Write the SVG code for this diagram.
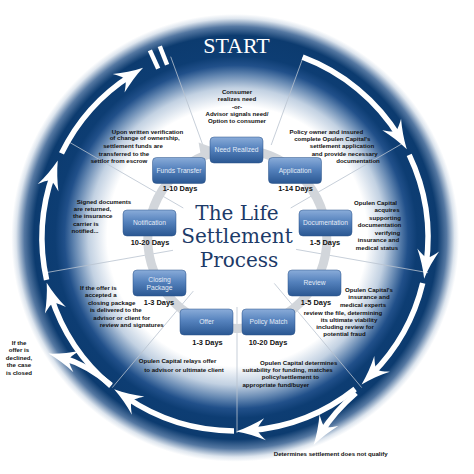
<svg xmlns="http://www.w3.org/2000/svg" width="474" height="474" viewBox="0 0 474 474">
<defs>
<radialGradient id="ringGrad" gradientUnits="userSpaceOnUse" cx="235" cy="238" r="232" fx="240" fy="234">
<stop offset="0" stop-color="#ffffff"/>
<stop offset="0.56" stop-color="#ffffff"/>
<stop offset="0.64" stop-color="#c2d1e2"/>
<stop offset="0.70" stop-color="#6185b0"/>
<stop offset="0.74" stop-color="#21508a"/>
<stop offset="0.78" stop-color="#0d3d73"/>
<stop offset="0.87" stop-color="#0c3b6f"/>
<stop offset="0.91" stop-color="#5578a2"/>
<stop offset="0.945" stop-color="#dde5ee"/>
<stop offset="0.965" stop-color="#ffffff"/>
<stop offset="1" stop-color="#ffffff"/>
</radialGradient>
<linearGradient id="nodeGrad" x1="0" y1="0" x2="0" y2="1">
<stop offset="0" stop-color="#8aacd9"/>
<stop offset="0.45" stop-color="#5582bd"/>
<stop offset="1" stop-color="#2a5792"/>
</linearGradient>
<marker id="ah" viewBox="-20 -20 40 40" markerWidth="40" markerHeight="40" refX="0" refY="0" orient="auto" markerUnits="userSpaceOnUse" overflow="visible">
<path d="M14,0 C4,-2.5 -6,-6.5 -15,-11 C-9.5,-5 -7.5,-2 -7.5,0 C-7.5,2 -9.5,5 -15,11 C-6,6.5 4,2.5 14,0 Z" fill="#ffffff"/>
</marker>
<style>
.arc{fill:none;stroke:#ffffff;stroke-width:5.5;marker-end:url(#ah)}
.bar{stroke:#ffffff;stroke-width:4.5}
.div{stroke:#b9c3cf;stroke-width:0.8}
.box{fill:url(#nodeGrad);stroke:#2b5288;stroke-width:0.5}
.lbl{font-family:"Liberation Sans",Arial,sans-serif;font-size:6.7px;fill:#e3ebf6;text-anchor:middle}
.days{font-family:"Liberation Sans",Arial,sans-serif;font-size:7.4px;font-weight:bold;fill:#111111;text-anchor:middle}
.note{font-family:"Liberation Sans",Arial,sans-serif;font-size:6.1px;font-weight:bold;fill:#111111;text-anchor:middle}
.title{font-family:"DejaVu Serif","Liberation Serif",serif;font-size:20px;fill:#1c3a68;text-anchor:middle}
</style>
</defs>
<rect width="474" height="474" fill="#ffffff"/>
<circle cx="235" cy="238" r="232" fill="url(#ringGrad)"/>
<g id="dividers">
<line class="div" x1="204.5" y1="149.7" x2="170.7" y2="56.7"/>
<line class="div" x1="271.2" y1="145" x2="303.3" y2="56.7"/>
<line class="div" x1="290.7" y1="208" x2="405" y2="142"/>
<line class="div" x1="296.1" y1="249.4" x2="428.1" y2="272.7"/>
<line class="div" x1="274.3" y1="283.4" x2="361.7" y2="387.6"/>
<line class="div" x1="237" y1="307" x2="237" y2="433"/>
<line class="div" x1="193.3" y1="291.1" x2="112.3" y2="387.6"/>
<line class="div" x1="173" y1="250.3" x2="45.9" y2="272.7"/>
<line class="div" x1="183.3" y1="208" x2="69" y2="142"/>
</g>
<g id="connectors">
<circle cx="237.3" cy="239" r="89.5" fill="none" stroke="#d2d6db" stroke-width="9"/>
<polygon points="198.6,142.6 214,148 201.4,158.4" fill="#d2d6db"/>
<path class="arc" d="M302.6,57.2 A193,193 0 0 1 399.5,137.2"/>
<path class="arc" d="M409.2,154.9 A193,193 0 0 1 426.1,264.9"/>
<path class="arc" d="M422.7,283.1 A193,193 0 0 1 371.5,374.5"/>
<path class="arc" d="M355.1,389 A193,193 0 0 1 250.1,430.4"/>
<path class="arc" d="M234,431 A193,193 0 0 1 125.7,397.1"/>
<path class="arc" d="M110.9,385.8 A193,193 0 0 1 50.9,296"/>
<path class="arc" d="M46.6,279.8 A193,193 0 0 1 53.1,173.6"/>
<path class="arc" d="M61.5,153.4 A193,193 0 0 1 131.3,75.2"/>
<path class="arc" d="M111,385 Q88,365 62,357.5"/>
<path class="arc" d="M356,393 Q334,412 321,433"/>
<line class="bar" x1="149.9" y1="50.4" x2="158.2" y2="68.6"/>
<line class="bar" x1="159.8" y1="46.2" x2="167.1" y2="64.8"/>
</g>
<text x="236.5" y="52.5" font-family="'Liberation Serif','Times New Roman',serif" font-size="22" fill="#ffffff" text-anchor="middle">START</text>
<g id="title">
<text class="title" x="237" y="219.5">The Life</text>
<text class="title" x="237" y="243">Settlement</text>
<text class="title" x="239" y="266.5">Process</text>
</g>
<g id="need-realized">
<rect class="box" x="210" y="137" width="53" height="26" rx="4"/>
<text class="lbl" x="236.5" y="152.3">Need Realized</text>
</g>
<g id="application">
<rect class="box" x="268.5" y="157.5" width="53" height="26" rx="4"/>
<text class="lbl" x="295" y="172.8">Application</text>
<text class="days" x="295.5" y="191">1-14 Days</text>
</g>
<g id="documentation">
<rect class="box" x="299" y="210" width="53" height="26" rx="4"/>
<text class="lbl" x="325.5" y="225.3">Documentation</text>
<text class="days" x="325" y="244.5">1-5 Days</text>
</g>
<g id="review">
<rect class="box" x="288" y="270" width="53" height="26" rx="4"/>
<text class="lbl" x="314.5" y="285.3">Review</text>
<text class="days" x="316" y="304.5">1-5 Days</text>
</g>
<g id="policy-match">
<rect class="box" x="242" y="309" width="53" height="26" rx="4"/>
<text class="lbl" x="268.5" y="324.3">Policy Match</text>
<text class="days" x="268" y="344.5">10-20 Days</text>
</g>
<g id="offer">
<rect class="box" x="180" y="309" width="53" height="26" rx="4"/>
<text class="lbl" x="206.5" y="324.3">Offer</text>
<text class="days" x="207.5" y="344.5">1-3 Days</text>
</g>
<g id="closing-package">
<rect class="box" x="133" y="270" width="53" height="26" rx="4"/>
<text class="lbl" x="159.5" y="282.3">Closing</text>
<text class="lbl" x="159.5" y="289.5">Package</text>
<text class="days" x="159" y="304.5">1-3 Days</text>
</g>
<g id="notification">
<rect class="box" x="123" y="210" width="53" height="26" rx="4"/>
<text class="lbl" x="149.5" y="225.3">Notification</text>
<text class="days" x="150" y="244.5">10-20 Days</text>
</g>
<g id="funds-transfer">
<rect class="box" x="152.5" y="157.5" width="53" height="26" rx="4"/>
<text class="lbl" x="179" y="172.8">Funds Transfer</text>
<text class="days" x="180" y="191">1-10 Days</text>
</g>
<g id="notes">
<text class="note" x="237" y="94">Consumer</text>
<text class="note" x="237" y="101.3">realizes need</text>
<text class="note" x="237" y="108.6">-or-</text>
<text class="note" x="237" y="116">Advisor signals need/</text>
<text class="note" x="237" y="123.3">Option to consumer</text>
<text class="note" x="147.5" y="134">Upon written verification</text>
<text class="note" x="144.7" y="140">of change of ownership,</text>
<text class="note" x="133" y="148.3">settlement funds are</text>
<text class="note" x="124" y="156">transferred to the</text>
<text class="note" x="119" y="163.3">settlor from escrow</text>
<text class="note" x="326.3" y="134">Policy owner and insured</text>
<text class="note" x="332.3" y="140.6">complete Opulen Capital's</text>
<text class="note" x="342" y="148.3">settlement application</text>
<text class="note" x="344.7" y="156">and provide necessary</text>
<text class="note" x="358" y="162.8">documentation</text>
<text class="note" x="375.5" y="205">Opulen Capital</text>
<text class="note" x="387" y="212.3">acquires</text>
<text class="note" x="385" y="219.6">supporting</text>
<text class="note" x="379.5" y="227.3">documentation</text>
<text class="note" x="387.5" y="234.6">verifying</text>
<text class="note" x="378.5" y="242.3">insurance and</text>
<text class="note" x="377" y="249.6">medical status</text>
<text class="note" x="369" y="291.6">Opulen Capital's</text>
<text class="note" x="369" y="299.3">insurance and</text>
<text class="note" x="363" y="306.8">medical experts</text>
<text class="note" x="343" y="314.5">review the file, determining</text>
<text class="note" x="349" y="321.5">its ultimate viability</text>
<text class="note" x="345" y="328.6">including review for</text>
<text class="note" x="344.5" y="336.3">potential fraud</text>
<text class="note" x="298.7" y="364.6">Opulen Capital determines</text>
<text class="note" x="287.5" y="372.3">suitability for funding, matches</text>
<text class="note" x="290.3" y="379">policy/settlement to</text>
<text class="note" x="275.8" y="386.6">appropriate fund/buyer</text>
<text class="note" x="177.5" y="363.3">Opulen Capital relays offer</text>
<text class="note" x="184" y="371.6">to advisor or ultimate client</text>
<text class="note" x="98.3" y="290">If the offer is</text>
<text class="note" x="100.8" y="297.3">accepted a</text>
<text class="note" x="111.7" y="305">closing package</text>
<text class="note" x="115.8" y="312.3">is delivered to the</text>
<text class="note" x="121.7" y="319.6">advisor or client for</text>
<text class="note" x="131.7" y="327.3">review and signatures</text>
<text class="note" x="104" y="204">Signed documents</text>
<text class="note" x="92.5" y="211.3">are returned,</text>
<text class="note" x="92.7" y="218.3">the insurance</text>
<text class="note" x="85.8" y="225.6">carrier is</text>
<text class="note" x="85" y="233">notified...</text>
<text class="note" x="19" y="345" text-anchor="start">If the</text>
<text class="note" x="19" y="352.3" text-anchor="start">offer is</text>
<text class="note" x="19" y="359.6" text-anchor="start">declined,</text>
<text class="note" x="19" y="367.3" text-anchor="start">the case</text>
<text class="note" x="19" y="374.6" text-anchor="start">is closed</text>
<text class="note" x="330.7" y="455.6">Determines settlement does not qualify</text>
</g>
</svg>
